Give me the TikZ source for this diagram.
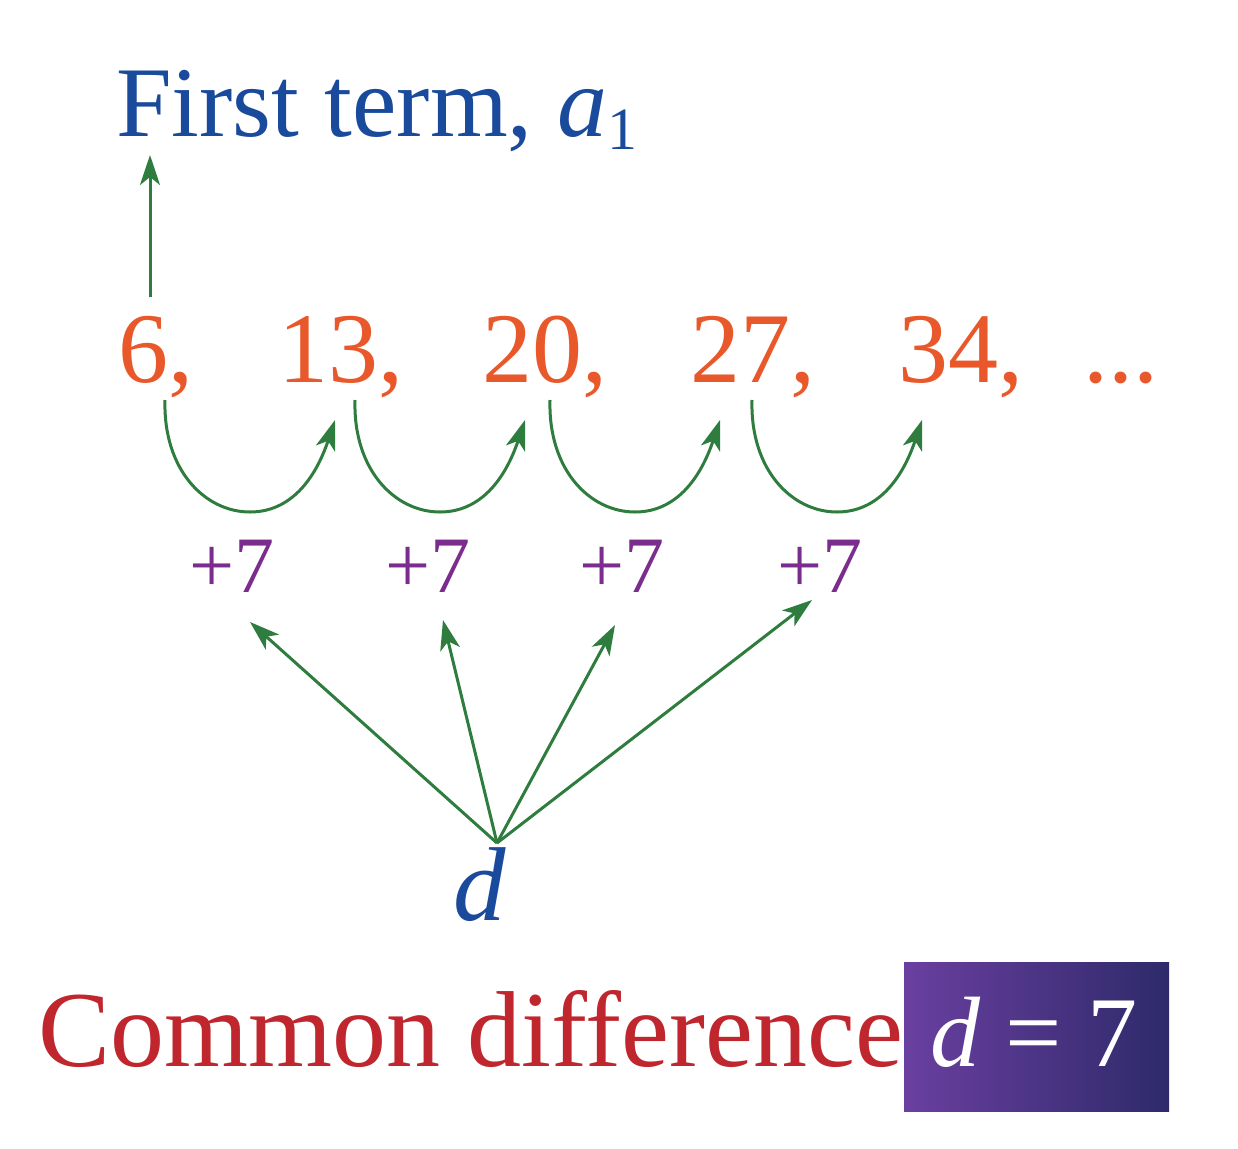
\documentclass[tikz,border=0pt]{standalone}
\usepackage{fontspec}
\setmainfont{Liberation Serif}
\usetikzlibrary{arrows.meta}
\definecolor{tblue}{HTML}{1A4A9C}
\definecolor{torange}{HTML}{E8582A}
\definecolor{tpurple}{HTML}{7B2D8E}
\definecolor{tgreen}{HTML}{2E7D3E}
\definecolor{tred}{HTML}{C0262D}
\definecolor{gl}{HTML}{6A3FA0}
\definecolor{gr}{HTML}{2E2A6A}
\tikzset{
  num/.style={text=torange,font=\fontsize{100}{100}\selectfont,anchor=base west,inner sep=0},
  plus/.style={text=tpurple,font=\fontsize{80}{80}\selectfont,anchor=base,inner sep=0},
  arr/.style={draw=tgreen,line width=3pt,-{Stealth[length=30pt,width=20pt,inset=8pt]}},
}
\begin{document}
\begin{tikzpicture}[x=1pt,y=-1pt]
\useasboundingbox (0,0) rectangle (1238,1148);
\node[anchor=base west,inner sep=0,text=tblue,font=\fontsize{100}{100}\selectfont] (title) at (116,136) {First term, \textit{a}\raisebox{-0.3ex}{\fontsize{60}{60}\selectfont 1}};
\node[num] (n1) at (118,382) {6,};
\node[num] (n2) at (278,382) {13,};
\node[num] (n3) at (482,382) {20,};
\node[num] (n4) at (690,382) {27,};
\node[num] (n5) at (898,382) {34,};
\node[num] (n6) at (1083,382) {...};
\coordinate (u0) at (150,297); \coordinate (u1) at (150,155);
\draw[arr] (u0) -- (u1);
\foreach \i/\x in {1/165,2/355,3/550,4/752}{
  \coordinate (s\i) at (\x,400);
  \coordinate (e\i) at (\x+170,420);
  \draw[arr] (s\i) .. controls (\x-2,470) and (\x+40,512) .. (\x+85,512) .. controls (\x+125,512) and (\x+150,480) .. (e\i);
}
\node[plus] (p1) at (232,592) {+7};
\node[plus] (p2) at (428,592) {+7};
\node[plus] (p3) at (622,592) {+7};
\node[plus] (p4) at (820,592) {+7};
\node[anchor=base,inner sep=0,text=tblue,font=\fontsize{105}{105}\selectfont\itshape] (d) at (480,920) {d};
\coordinate (dt) at (497,843);
\coordinate (t1) at (250,622); \coordinate (t2) at (443,620);
\coordinate (t3) at (615,625); \coordinate (t4) at (812,600);
\foreach \i in {1,...,4}{\draw[arr] (dt) -- (t\i);}
\node[anchor=base west,inner sep=0,text=tred,font=\fontsize{108}{108}\selectfont] (cd) at (38,1066) {Common difference,};
\shade[left color=gl,right color=gr] (904,962) rectangle (1169,1111);
\node[anchor=base,inner sep=0,text=white,font=\fontsize{100}{100}\selectfont] (eq) at (1034,1066) {\textit{d} = 7};
\end{tikzpicture}
\end{document}
